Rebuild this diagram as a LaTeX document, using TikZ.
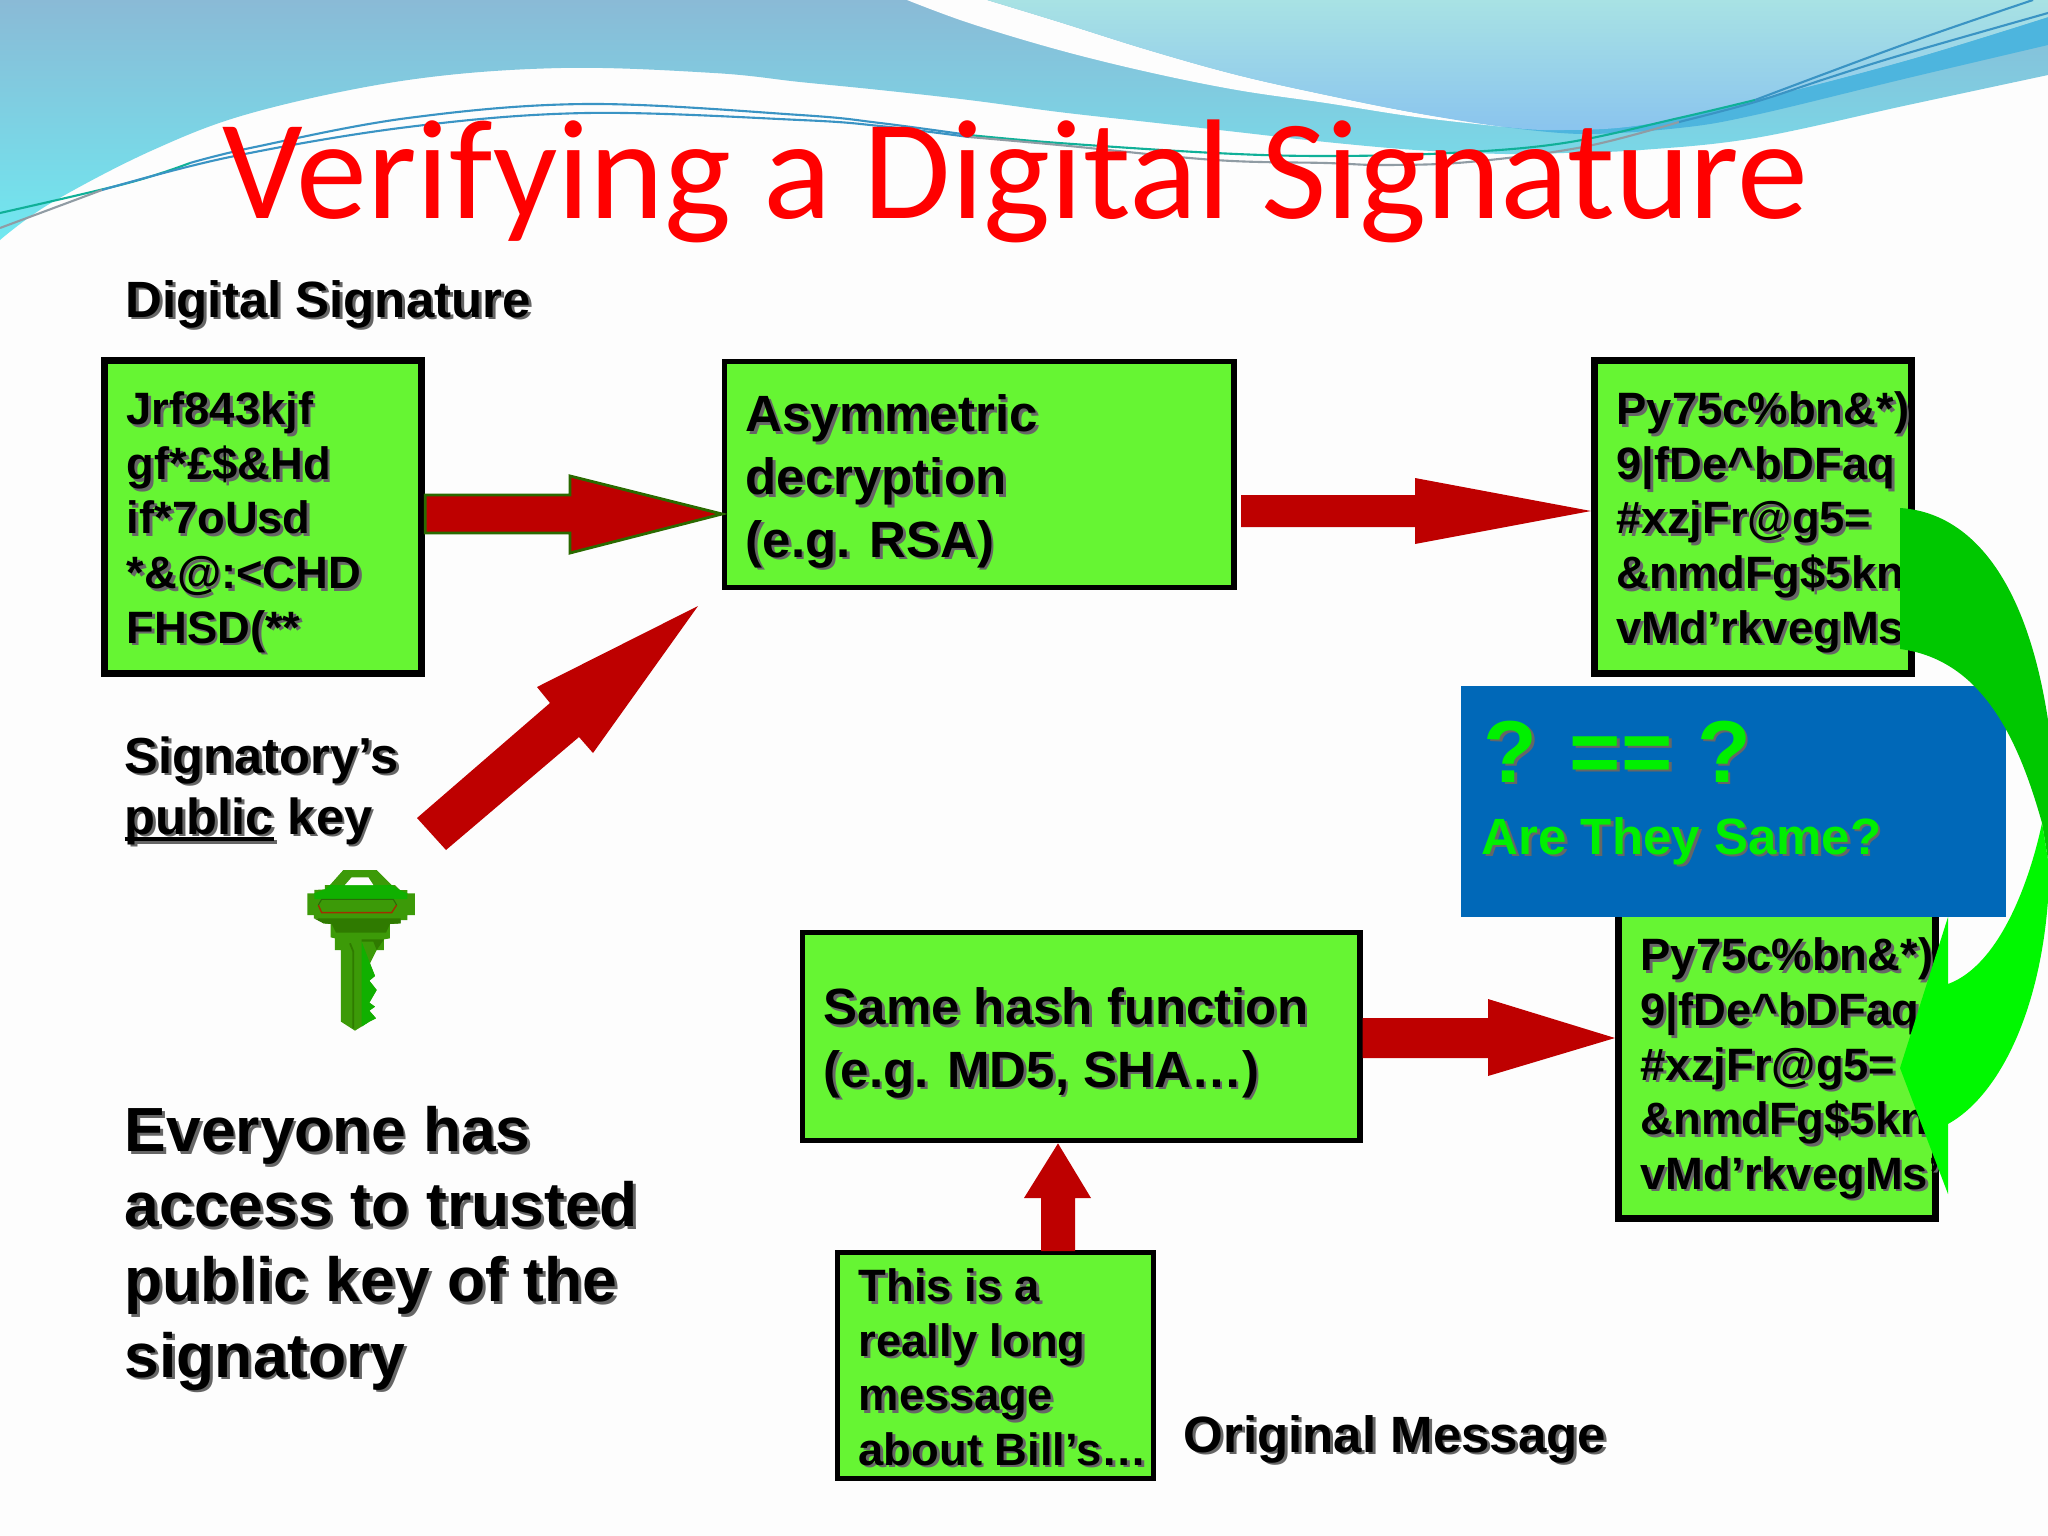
\documentclass[tikz,border=0pt]{standalone}
\usepackage{fontspec}
\setmainfont{Liberation Sans}
\newfontfamily\titlefont{Carlito}
\definecolor{boxgreen}{HTML}{66F533}
\definecolor{arrowred}{HTML}{BE0000}
\definecolor{arrowline}{HTML}{2A6A00}
\definecolor{bandblue}{HTML}{4DB5DE}
\definecolor{panelblue}{HTML}{0068B8}
\definecolor{brightgreen}{HTML}{00F000}
\definecolor{curvedark}{HTML}{00C800}
\definecolor{curvebright}{HTML}{00F800}
\definecolor{keygreen}{HTML}{3C9A08}
\definecolor{keybright}{HTML}{10B000}
\definecolor{keydark}{HTML}{2F7A00}
\definecolor{keyred}{HTML}{A03000}
\definecolor{topblue}{HTML}{8ABAD6}
\definecolor{lowblue}{HTML}{70E8F0}
\definecolor{paletop}{HTML}{A8E2E4}
\definecolor{palelow}{HTML}{8AC4EE}
\definecolor{lineteal}{HTML}{10B098}
\definecolor{lineblue}{HTML}{3A94C4}
\definecolor{linegray}{HTML}{909CA4}
\definecolor{pagewhite}{HTML}{FDFDFD}
\newcommand{\shl}[1]{\leavevmode\rlap{\kern0.8pt\raisebox{-0.8pt}{\color{black!60}#1}}#1}
\newcommand{\ulbold}[1]{\setbox0=\hbox{#1}\rlap{\rule[-1.9pt]{\wd0}{1.1pt}}\box0\relax}
\tikzset{
  x=0.01cm,y=-0.01cm,
  greenbox/.style={draw=black,fill=boxgreen,line width=2pt,sharp corners,inner sep=0pt,anchor=north west},
  thinbox/.style={greenbox,line width=1.5pt},
  redarrow/.style={fill=arrowred},
  boldtext/.style={font=\bfseries,align=left,anchor=base west,inner sep=0pt},
  boxtext/.style={boldtext,font=\bfseries\fontsize{12.9}{15.5}\selectfont},
  labeltext/.style={boldtext,font=\bfseries\fontsize{14.5}{17}\selectfont},
  midtext/.style={boldtext,font=\bfseries\fontsize{14.5}{17.84}\selectfont},
  keytext/.style={boldtext,font=\bfseries\fontsize{14.4}{17.35}\selectfont},
  bigtext/.style={boldtext,font=\bfseries\fontsize{17.75}{21.34}\selectfont},
  thread/.style={line width=0.6pt},
}
\begin{document}
\begin{tikzpicture}
\useasboundingbox (0,0) rectangle (2048,1536);
\fill[pagewhite] (0,0) rectangle (2048,1536);
% background waves
\shade[top color=topblue,bottom color=lowblue] (0,0) -- (2048,0) -- plot[smooth,tension=0.6] coordinates {(2048,75) (1908,105) (1755,138) (1641,150) (1564,153) (1505,154) (1416,150) (1326,142) (1237,132) (1148,122) (1059,112) (969,100) (880,90) (800,82) (714,73) (561,68) (408,80) (255,112) (153,150) (51,203) (0,240)} -- cycle;
\fill[pagewhite] (907,0) -- plot[smooth,tension=0.6] coordinates {(907,0) (969,23) (1059,50) (1148,72) (1237,90) (1326,103) (1416,117) (1505,127)} -- plot[smooth,tension=0.6] coordinates {(1505,127) (1416,113) (1326,95) (1237,75) (1148,50) (1059,22) (987,0)} -- cycle;
\fill[bandblue] (1505,127) -- plot[smooth,tension=0.6] coordinates {(1505,127) (1583,134) (1679,128) (1755,115) (1908,78) (2048,45)} -- (2048,17) -- plot[smooth,tension=0.6] coordinates {(2048,17) (1908,60) (1755,100) (1641,125) (1564,128) (1505,127)} -- cycle;
\shade[top color=paletop,bottom color=palelow] (987,0) -- plot[smooth,tension=0.6] coordinates {(987,0) (1059,22) (1148,50) (1237,75) (1326,95) (1416,113) (1505,127) (1564,130) (1641,125) (1755,100) (1908,60) (2048,17)} -- (2048,0) -- cycle;
% thin lines
\draw[lineteal,thread] plot[smooth,tension=0.6] coordinates {(0,213) (128,183) (190,163)};
\draw[lineblue,thread] plot[smooth,tension=0.6] coordinates {(190,163) (255,147) (408,118) (587,104) (800,115) (880,123) (969,135)};
\draw[lineteal,thread] plot[smooth,tension=0.6] coordinates {(969,135) (1059,143) (1215,153) (1326,156) (1450,153) (1564,143) (1679,118) (1755,100)};
\draw[lineblue,thread] plot[smooth,tension=0.6] coordinates {(1755,100) (1908,43) (2033,0)};
\draw[linegray,thread] plot[smooth,tension=0.6] coordinates {(0,228) (102,190)};
\draw[lineblue,thread] plot[smooth,tension=0.6] coordinates {(102,190) (230,157) (408,127) (587,113) (800,120) (880,126) (969,137)};
\draw[linegray,thread] plot[smooth,tension=0.6] coordinates {(969,137) (1059,145) (1215,160) (1326,163) (1384,165) (1469,162) (1583,147) (1679,122)};
\draw[lineblue,thread] plot[smooth,tension=0.6] coordinates {(1679,122) (1755,102) (1831,77) (1908,53) (2048,13)};

% title
\node[anchor=base west,inner sep=0pt,text=red,font=\titlefont\fontsize{40.4}{46}\selectfont] (title) at (222,218) {Verifying a Digital Signature};

% boxes
\node[greenbox,minimum width=3.17cm,minimum height=3.13cm] (sig) at (101,357) {};
\node[thinbox,minimum width=5.09cm,minimum height=2.26cm] (asym) at (722,359) {};
\node[greenbox,minimum width=3.17cm,minimum height=3.13cm] (decr) at (1591,357) {};
\node[greenbox,minimum width=3.17cm,minimum height=3.13cm] (hashed) at (1615,902) {};
\node[thinbox,minimum width=5.57cm,minimum height=2.08cm] (hash) at (800,930) {};
\node[thinbox,minimum width=3.16cm,minimum height=2.26cm] (msg) at (835,1250) {};

% texts
\node[labeltext] (t1) at (125,317) {\shl{Digital Signature}};
\node[boxtext] (t2) at (126,643) {\shl{Jrf843kjf}\\\shl{gf*£\$\&Hd}\\\shl{if*7oUsd}\\\shl{*\&@:<CHD}\\\shl{FHSD(**}};
\node[midtext] (t3) at (745,557) {\shl{Asymmetric}\\\shl{decryption}\\\shl{(e.g. RSA)}};
\node[boxtext] (t4) at (1616,643) {\shl{Py75c\%bn\&*)}\\\shl{9|fDe\^{}bDFaq}\\\shl{\#xzjFr@g5=}\\\shl{\&nmdFg\$5kn}\\\shl{vMd’rkvegMs}};
\node[boxtext] (t5) at (1640,1189) {\shl{Py75c\%bn\&*)}\\\shl{9|fDe\^{}bDFaq}\\\shl{\#xzjFr@g5=}\\\shl{\&nmdFg\$5kn}\\\shl{vMd’rkvegMs’}};
\node[midtext] (t6) at (823,1087) {\shl{Same hash function}\\\shl{(e.g. MD5, SHA…)}};
\node[boxtext] (t7) at (858,1465) {\shl{This is a}\\\shl{really long}\\\shl{message}\\\shl{about Bill’s…}};
\node[labeltext] (t8) at (1183,1452) {\shl{Original Message}};
\node[keytext] (t9) at (124,834) {\shl{Signatory’s}\\\shl{\ulbold{public} key}};
\node[bigtext] (t10) at (124,1377) {\shl{Everyone has}\\\shl{access to trusted}\\\shl{public key of the}\\\shl{signatory}};

% arrows
\fill[redarrow,draw=arrowline,line width=0.8pt] (sig.east |- 0,495) -- (570,495) -- (570,476) -- (asym.west |- 0,514) -- (570,553) -- (570,533) -- (sig.east |- 0,533) -- cycle;
\fill[redarrow] (1241,495) -- (1415,495) -- (1415,478) -- (decr.west |- 0,511) -- (1415,544) -- (1415,527) -- (1241,527) -- cycle;
\fill[redarrow] (417,818) -- (550,703) -- (537,687) -- (698,606) -- (593,753) -- (579,737) -- (446,850) -- cycle;
\fill[redarrow] (hash.east |- 0,1018) -- (1488,1018) -- (1488,999) -- (hashed.west |- 0,1038) -- (1488,1076) -- (1488,1058) -- (hash.east |- 0,1058) -- cycle;
\fill[redarrow] (1041,1251) -- (1041,1198) -- (1024,1198) -- (hash.south -| 1058,0) -- (1091,1198) -- (1075,1198) -- (1075,1251) -- cycle;

% panel
\node[fill=panelblue,minimum width=5.45cm,minimum height=2.31cm,inner sep=0pt,anchor=north west] (panel) at (1460,685) {};
\node[boldtext,text=brightgreen,font=\bfseries\fontsize{25}{29}\selectfont] (q1) at (1483,782) {\shl{? == ?}};
\node[boldtext,text=brightgreen,font=\bfseries\fontsize{14.5}{17}\selectfont] (q2) at (1481,854) {\shl{Are They Same?}};

% curved arrow
\fill[curvedark] (1900,508) .. controls (1965,512) and (2025,570) .. (2048,720) -- (2048,860) -- (2042,823)
  .. controls (2020,745) and (1985,660) .. (1900,649) -- cycle;
\fill[curvebright] (1900,1068) -- (1948,917) -- (1948,984) .. controls (2000,965) and (2030,880) .. (2042,823)
  -- (2048,860) -- (2048,900) .. controls (2040,1010) and (2000,1095) .. (1948,1124) -- (1948,1194) -- cycle;

% key
\begin{scope}[shift={(280,850)},scale=0.3333]
\fill[keygreen] (190,60) -- (290,60) -- (335,105) -- (345,105) -- (360,120) -- (382,120) -- (382,130) -- (405,130) -- (405,195) -- (382,195) -- (382,210) -- (362,210) -- (362,220) -- (330,222) -- (330,265) -- (312,268) -- (312,300) -- (290,300) -- (270,340) -- (285,378) -- (268,392) -- (290,420) -- (268,458) -- (285,470) -- (268,482) -- (288,505) -- (268,515) -- (225,542) -- (183,515) -- (183,300) -- (165,300) -- (165,265) -- (152,262) -- (152,222) -- (130,220) -- (130,208) -- (102,205) -- (102,195) -- (82,195) -- (82,130) -- (103,130) -- (103,120) -- (135,118) -- (135,105) -- (150,105) -- cycle;
\fill[keybright] (150,105) -- (335,105) -- (360,120) -- (382,130) -- (382,147) -- (103,147) -- (103,130) -- (135,118) -- cycle;
\fill[pagewhite] (215,82) -- (265,82) -- (280,105) -- (195,105) -- cycle;
\draw[keyred,line width=0.4pt] (115,165) -- (125,188) -- (335,188) -- (350,165);
\draw[keygreen!70!black,line width=0.3pt] (115,165) -- (125,148) -- (340,148) -- (350,165);
\fill[keydark] (102,205) -- (362,205) -- (362,220) -- (330,222) -- (318,248) -- (168,248) -- (155,222) -- (130,220) -- cycle;
\fill[keydark] (245,268) -- (312,268) -- (290,300) -- (280,275) -- (245,275) -- cycle;
\fill[keybright] (245,275) -- (270,340) -- (285,378) -- (268,392) -- (290,420) -- (268,458) -- (285,470) -- (268,482) -- (288,505) -- (268,515) -- (245,530) -- cycle;
\draw[keydark,line width=0.5pt] (210,280) -- (220,305) -- (220,535);
\end{scope}
\end{tikzpicture}
\end{document}
